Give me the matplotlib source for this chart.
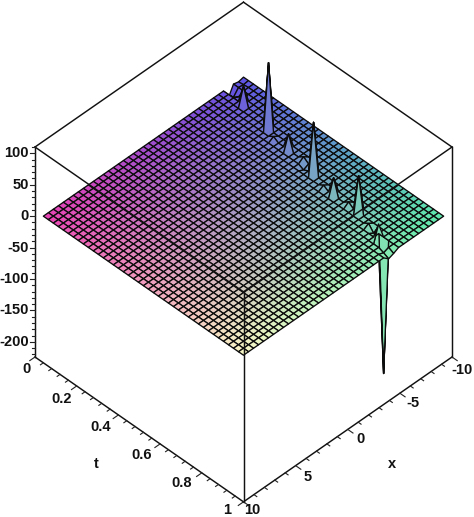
"""Boxed 3D surface of u(x, t) with a row of narrow peaks near x = -6."""
import matplotlib

matplotlib.use("Agg")
import matplotlib.pyplot as plt
import numpy as np
from mpl_toolkits.mplot3d import proj3d

FONT = "Liberation Sans"

# surface samples
x_nodes = np.linspace(-9.6, 9.6, 41)
t_nodes = np.linspace(0.02, 0.98, 41)

# nonzero samples of u, everything else on the sheet sits at 0
peak_x = [-7.2, -6.2, -5.6, -4.9, -7.5, -6.6, -5.9, -5.0,
          -8.2, -8.2, -8.2, -9.2, -9.2,
          -6.8, -6.6, -6.4, -5.8, -5.6, -5.3, -5.2, -4.7, -4.4, -4.4]
peak_t = [0.26, 0.53, 0.77, 0.94, 0.12, 0.38, 0.65, 0.91,
          0.02, 0.044, 0.068, 0.02, 0.044,
          0.31, 0.45, 0.476, 0.59, 0.71, 0.83, 0.85, 0.98, 0.98, 0.956]
peak_u = [106, 83, 59, -206, 30, 26, 28, 26,
          -16, -10, -4, -2, -1,
          5, 6, -4, 5, 6, 5, -5, -4, -7, -3]

# colours at (x=10,t=0), (x=10,t=1), (x=-10,t=0), (x=-10,t=1)
corner_rgb = [(0.94, 0.25, 0.70), (1.00, 1.00, 0.78),
              (0.36, 0.32, 0.90), (0.35, 0.93, 0.66)]

z_min, z_max = -224, 110
z_labels = [100, 50, 0, -50, -100, -150, -200]
t_labels = [0, 0.2, 0.4, 0.6, 0.8, 1]
x_labels = [10, 5, 0, -5, -10]
t_shift = [(-4, -12), (-5, -13), (-7, -12), (-8, -11), (-10, -10), (-12, -8)]
x_shift = [(9, -8), (12, -11), (13, -10), (13, -10), (10, -13)]

W, H = 474, 517
fig = plt.figure(figsize=(W / 100, H / 100), dpi=100)
ax = fig.add_axes([0, 0, 1, 1], projection="3d", proj_type="ortho", computed_zorder=False)
ax.set_axis_off()
ax.view_init(elev=44, azim=45)
ax.set_box_aspect((1, 1, 0.99))
ax.set_xlim(-10, 10)
ax.set_ylim(0, 1)
ax.set_zlim(z_min, z_max)


def project(x, t, z):
    px, py, _ = proj3d.proj_transform(x, t, z, ax.get_proj())
    return px, py


def to_display(x, t, z):
    return ax.transData.transform(project(x, t, z))


# scale and move the axes so the cube lands on its spot in the canvas
fig.canvas.draw()
left, right = to_display(10, 0, z_min), to_display(-10, 1, z_min)
side = W * 417.0 / (right[0] - left[0])
ax.set_position([0, 0, side / W, side / H])
fig.canvas.draw()
left = to_display(10, 0, z_min)
ax.set_position([(35 - left[0]) / W, (H - 357 - left[1]) / H, side / W, side / H])
fig.canvas.draw()

T, X = np.meshgrid(t_nodes, x_nodes)
U = np.zeros_like(X)
for px_, pt_, pu_ in zip(peak_x, peak_t, peak_u):
    U[np.abs(x_nodes - px_).argmin(), np.abs(t_nodes - pt_).argmin()] = pu_

a = ((10 - X) / 20)[..., None]
b = T[..., None]
c = np.array(corner_rgb)
rgb = (1 - a) * ((1 - b) * c[0] + b * c[1]) + a * ((1 - b) * c[2] + b * c[3])

ax.plot_surface(X, T, U, facecolors=rgb, rcount=41, ccount=41, shade=False,
                edgecolor="#0c0c0c", linewidth=0.95, antialiased=True, zorder=2)

# open box: top face, three verticals, two floor edges
edge = dict(color="#111111", lw=1.05, zorder=3, clip_on=False)
box_edges = [
    ((10, 0, z_max), (10, 1, z_max)),
    ((10, 1, z_max), (-10, 1, z_max)),
    ((-10, 1, z_max), (-10, 0, z_max)),
    ((-10, 0, z_max), (10, 0, z_max)),
    ((10, 0, z_min), (10, 0, z_max)),
    ((10, 1, z_min), (10, 1, z_max)),
    ((-10, 1, z_min), (-10, 1, z_max)),
    ((10, 0, z_min), (10, 1, z_min)),
    ((10, 1, z_min), (-10, 1, z_min)),
]
for p0, p1 in box_edges:
    ax.plot(*zip(p0, p1), **edge)

# tick marks
tick = dict(color="#222222", lw=0.8, zorder=3, clip_on=False)
for z in np.arange(-220, 111, 10):
    d = 1.0 if z % 50 == 0 else 0.6
    ax.plot([10, 10 + 0.25 * d], [0, -0.0125 * d], [z, z], **tick)
for t in np.arange(0, 1.001, 0.04):
    d = 1.0 if round(t * 100) % 20 == 0 else 0.55
    ax.plot([10, 10 + 0.5 * d], [t, t], [z_min, z_min], **tick)
for x in np.arange(-10, 11, 1):
    d = 1.0 if x % 5 == 0 else 0.55
    ax.plot([x, x], [1, 1 + 0.025 * d], [z_min, z_min], **tick)


def label(text, xyz, shift, ha="center"):
    ax.annotate(text, project(*xyz), xytext=shift, textcoords="offset pixels",
                ha=ha, va="center", fontsize=10.5, fontweight="bold", family=FONT,
                color="#111111", annotation_clip=False)


for z in z_labels:
    label(str(z), (10, 0, z), (-6, 0), ha="right")
for v, s in zip(t_labels, t_shift):
    label(str(v), (10, v, z_min), s, ha="right")
for v, s in zip(x_labels, x_shift):
    label(str(v), (v, 1, z_min), s)
label("t", (10, 0.45, z_min), (-33, -42))
label("x", (-1.5, 1, z_min), (29, -45))

fig.savefig("out.png", dpi=100)
